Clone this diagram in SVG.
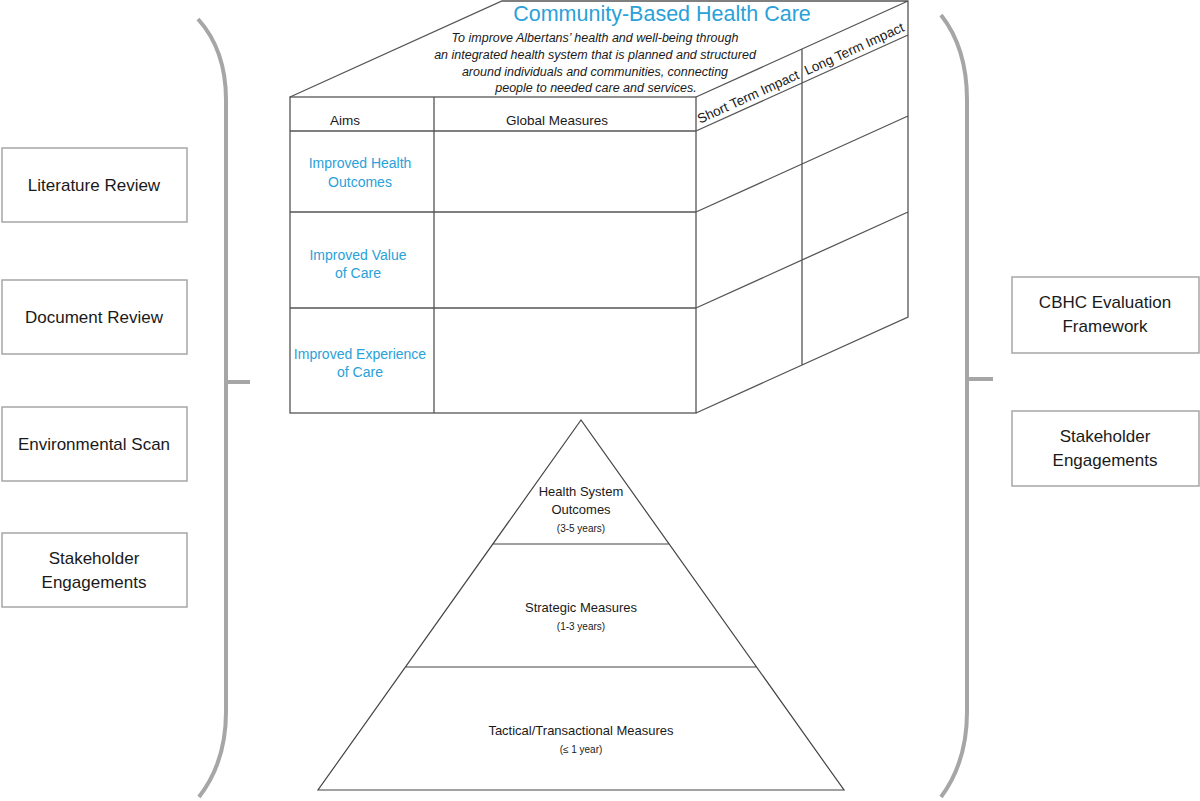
<svg xmlns="http://www.w3.org/2000/svg" width="1200" height="801" viewBox="0 0 1200 801">
<style>
.box{fill:#fff;stroke:#a6a6a6;stroke-width:1.5}
.lbl{font-family:"Liberation Sans",Arial,sans-serif;font-size:17px;fill:#1a1a1a;text-anchor:middle}
.brace{fill:none;stroke:#a6a6a6;stroke-width:4;stroke-linecap:butt}
.cube{fill:none;stroke:#555;stroke-width:1.3}
.ct{font-family:"Liberation Sans",Arial,sans-serif;font-size:13.5px;fill:#1a1a1a;text-anchor:middle}
.aim{font-family:"Liberation Sans",Arial,sans-serif;font-size:14px;fill:#2aa1d9;text-anchor:middle}
.it{font-family:"Liberation Sans",Arial,sans-serif;font-size:12.5px;font-style:italic;fill:#1a1a1a;text-anchor:middle}
.pyr{fill:none;stroke:#444;stroke-width:1.2}
.pt{font-family:"Liberation Sans",Arial,sans-serif;font-size:13px;fill:#1a1a1a;text-anchor:middle}
.ps{font-family:"Liberation Sans",Arial,sans-serif;font-size:10px;fill:#1a1a1a;text-anchor:middle}
</style>
<rect width="1200" height="801" fill="#fff"/>

<g id="connectors">
<path class="brace" d="M198,19 Q226,50 226,100 V712 Q226,762 199,797"/>
<path class="brace" d="M226,382 H250"/>
<path class="brace" d="M941,15 Q967,48 967,100 V712 Q967,762 941,797"/>
<path class="brace" d="M967,379 H993"/>
</g>

<g id="literature-review"><rect class="box" x="2" y="148" width="185" height="74"/><text class="lbl" x="94" y="191">Literature Review</text></g>
<g id="document-review"><rect class="box" x="2" y="280" width="185" height="74"/><text class="lbl" x="94" y="323">Document Review</text></g>
<g id="environmental-scan"><rect class="box" x="2" y="407" width="185" height="74"/><text class="lbl" x="94" y="450">Environmental Scan</text></g>
<g id="stakeholder-left"><rect class="box" x="2" y="533" width="185" height="74"/><text class="lbl" x="94" y="564">Stakeholder</text><text class="lbl" x="94" y="588">Engagements</text></g>

<g id="cbhc-framework"><rect class="box" x="1012" y="277" width="187" height="76"/><text class="lbl" x="1105" y="308">CBHC Evaluation</text><text class="lbl" x="1105" y="332">Framework</text></g>
<g id="stakeholder-right"><rect class="box" x="1012" y="411" width="187" height="75"/><text class="lbl" x="1105" y="442">Stakeholder</text><text class="lbl" x="1105" y="466">Engagements</text></g>

<g id="cube">
<rect class="cube" x="290" y="97" width="406" height="316" fill="#fff"/>
<path class="cube" d="M290,97 L502,1 H908 V317 L696,413 M696,97 L908,1 M434,97 V413 M290,131 H696 M290,212 H696 M290,308 H696 M696,131 L908,35 M696,212 L908,116 M696,308 L908,212 M802,49 V365"/>
<text x="662" y="21" text-anchor="middle" font-family="Liberation Sans, Arial, sans-serif" font-size="21.5" fill="#2aa1d9">Community-Based Health Care</text>
<text class="it" x="595" y="42">To improve Albertans’ health and well-being through</text>
<text class="it" x="595" y="59">an integrated health system that is planned and structured</text>
<text class="it" x="595" y="76">around individuals and communities, connecting</text>
<text class="it" x="596" y="92">people to needed care and services.</text>
<text class="ct" font-size="12.5" transform="translate(750,101) rotate(-24.5)">Short Term Impact</text>
<text class="ct" font-size="12.5" transform="translate(856,53) rotate(-24.5)">Long Term Impact</text>
<text class="ct" x="345" y="125">Aims</text>
<text class="ct" x="557" y="125">Global Measures</text>
<text class="aim" x="360" y="168">Improved Health</text>
<text class="aim" x="360" y="187">Outcomes</text>
<text class="aim" x="358" y="260">Improved Value</text>
<text class="aim" x="358" y="278">of Care</text>
<text class="aim" x="360" y="359">Improved Experience</text>
<text class="aim" x="360" y="377">of Care</text>
</g>

<g id="pyramid">
<path class="pyr" d="M581,420 L318,790 H844 Z M493,544 H669 M405,667 H757"/>
<text class="pt" x="581" y="496">Health System</text>
<text class="pt" x="581" y="514">Outcomes</text>
<text class="ps" x="581" y="532">(3-5 years)</text>
<text class="pt" x="581" y="612">Strategic Measures</text>
<text class="ps" x="581" y="630">(1-3 years)</text>
<text class="pt" x="581" y="735">Tactical/Transactional Measures</text>
<text class="ps" x="581" y="753">(≤ 1 year)</text>
</g>
</svg>
